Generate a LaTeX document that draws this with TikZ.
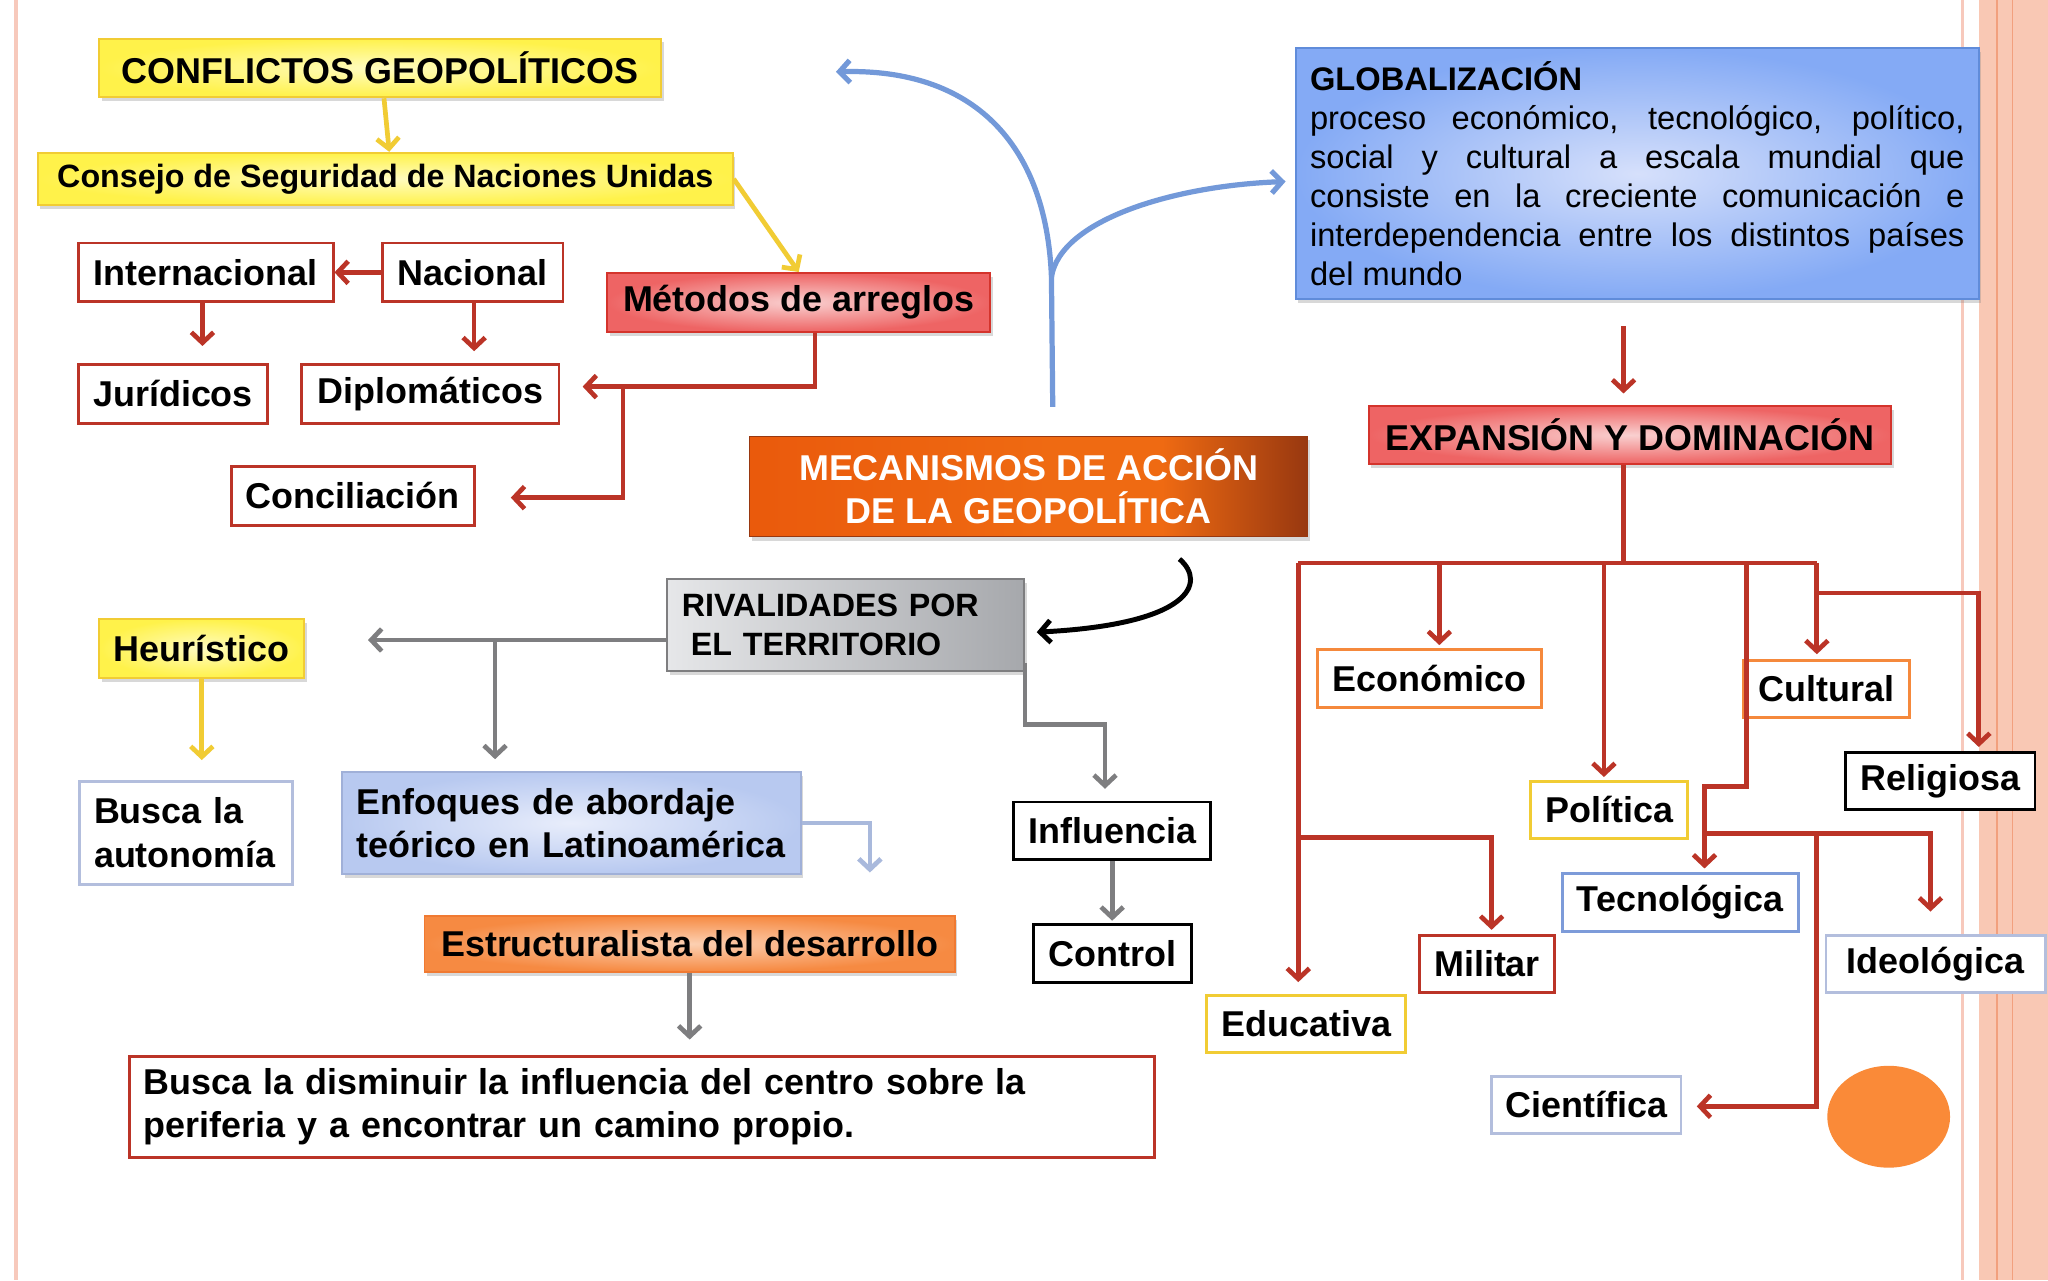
\documentclass[tikz,border=0pt]{standalone}
\usepackage{fontspec}
\setmainfont{Liberation Sans}
\usetikzlibrary{arrows.meta,shadows}
\definecolor{cm-red}{HTML}{BB3427}
\definecolor{cm-gold}{HTML}{F1CC34}
\definecolor{cm-orange}{HTML}{F5893C}
\definecolor{cm-blue}{HTML}{7399D9}
\definecolor{cm-tec}{HTML}{7D9BD9}
\definecolor{cm-pale}{HTML}{B3BEDD}
\definecolor{cm-palearr}{HTML}{A9B9DC}
\definecolor{cm-gray}{HTML}{7E7E80}
\definecolor{cm-side}{HTML}{F9C8B4}
\definecolor{cm-stripe}{HTML}{F2A07E}
\definecolor{cm-line}{HTML}{F7C9BC}
\definecolor{cm-dot}{HTML}{FA8A38}
\definecolor{meca-a}{HTML}{EA5A0C}
\definecolor{meca-b}{HTML}{EF6A12}
\definecolor{meca-c}{HTML}{983810}
\definecolor{y-in}{HTML}{FFFCC0}
\definecolor{y-out}{HTML}{FFF24A}
\definecolor{p-draw}{HTML}{D4342C}
\definecolor{p-in}{HTML}{F9D0D0}
\definecolor{p-out}{HTML}{EE6464}
\definecolor{g-draw}{HTML}{608CDA}
\definecolor{g-in}{HTML}{D6E0FB}
\definecolor{g-out}{HTML}{84AAF5}
\definecolor{r-left}{HTML}{E6E7E9}
\definecolor{r-right}{HTML}{A6A8AC}
\definecolor{e-draw}{HTML}{A0B0D8}
\definecolor{e-in}{HTML}{E8EDFB}
\definecolor{e-out}{HTML}{B8C9F0}
\definecolor{s-draw}{HTML}{F07A32}
\definecolor{s-in}{HTML}{FCD0B2}
\definecolor{s-out}{HTML}{F68A42}
\pgfdeclarehorizontalshading{mecashade}{100bp}{color(0bp)=(meca-a); color(25bp)=(meca-a);
  color(52bp)=(meca-b); color(62bp)=(meca-b); color(75bp)=(meca-c); color(100bp)=(meca-c)}
\newcommand{\lblfont}{\fontsize{27.5}{33}\selectfont\bfseries}
\newcommand{\smlfont}{\fontsize{24.7}{30}\selectfont\bfseries}
\newcommand{\txtfont}{\fontsize{25}{30}\selectfont}
\tikzset{
  cmbox/.style={draw, fill=white, line width=2.2pt, inner sep=0pt, font=\lblfont},
  redbox/.style={cmbox, draw=cm-red},
  blkbox/.style={cmbox, draw=black},
  orbox/.style={cmbox, draw=cm-orange},
  gdbox/.style={cmbox, draw=cm-gold},
  palebox/.style={cmbox, draw=cm-pale},
  shadowed/.style={drop shadow={shadow xshift=2pt, shadow yshift=-3pt, opacity=.3}},
  ybox/.style={cmbox, shadowed, draw=cm-gold, line width=1.5pt, inner color=y-in, outer color=y-out},
  pbox/.style={cmbox, shadowed, draw=p-draw, line width=1.5pt, inner color=p-in, outer color=p-out},
  arr/.style={line width=3.6pt, -{Straight Barb[length=8pt,width=17pt]}},
  redarr/.style={arr, draw=cm-red},
  grayarr/.style={arr, draw=cm-gray},
  yarr/.style={arr, draw=cm-gold},
}
\begin{document}
\begin{tikzpicture}[x=1pt,y=-1pt]
\useasboundingbox (0,0) rectangle (1568,980);
\fill[white] (0,0) rectangle (1568,980);
% page border
\draw[cm-line, line width=3pt] (12,0) -- (12,980);
\fill[cm-side] (1515,0) rectangle (1568,980);
\draw[cm-line, line width=3pt] (1502.5,0) -- (1502.5,980);
\draw[cm-stripe, line width=1pt] (1529,0) -- (1529,980) (1541,0) -- (1541,980);

% left block
\node[ybox, minimum width=430pt, minimum height=45pt] (conf) at (291,52) {CONFLICTOS GEOPOLÍTICOS};
\node[ybox, minimum width=532pt, minimum height=40pt, font=\smlfont] (consejo) at (295,137) {Consejo de Seguridad de Naciones Unidas};
\node[redbox, minimum width=195pt, minimum height=45pt] (inter) at (157.5,208.5) {Internacional};
\node[redbox, minimum width=138pt, minimum height=45pt] (nac) at (362,208.5) {Nacional};
\node[pbox, minimum width=293pt, minimum height=45pt] (metodos) at (611.5,231.5) {Métodos de arreglos};
\node[redbox, minimum width=145pt, minimum height=45pt] (jur) at (132.5,301.5) {Jurídicos};
\node[redbox, minimum width=197pt, minimum height=45pt] (dipl) at (329.5,301.5) {Diplomáticos};
\node[redbox, minimum width=186pt, minimum height=45pt] (conc) at (270,379.5) {Conciliación};

\draw[yarr] ([xshift=3pt]conf.south) -- ([xshift=3pt]consejo.north);
\draw[yarr] (consejo.east) -- (metodos.north);
\draw[redarr] (nac.west) -- (inter.east);
\draw[redarr, shorten >=13pt] ([xshift=-2.5pt]inter.south) -- ([xshift=-2.5pt]inter.south |- jur.north);
\draw[redarr, shorten >=9pt] ([xshift=1pt]nac.south) -- ([xshift=1pt]nac.south |- dipl.north);
\coordinate (mbend) at (477,296);
\draw[redarr] ([xshift=12.5pt]metodos.south) |- ([xshift=17pt,yshift=5.5pt]dipl.east);
\draw[redarr] (mbend) |- ([xshift=27pt,yshift=-1.5pt]conc.east);

% globalization
\node[cmbox, shadowed, draw=g-draw, line width=1.5pt, inner color=g-in, outer color=g-out, font=\txtfont, text width=501pt, inner xsep=11pt, align=justify, minimum height=192pt] (glob) at (1253.5,133)
  {\textbf{GLOBALIZACIÓN}\newline proceso económico, tecnológico, político,\linebreak social y cultural a escala mundial que\linebreak consiste en la creciente comunicación e\linebreak interdependencia entre los distintos países\linebreak del mundo};
\node[pbox, minimum width=400pt, minimum height=44pt] (expa) at (1248,333) {EXPANSIÓN Y DOMINACIÓN};
\draw[redarr, shorten <=20pt, shorten >=9pt] ([xshift=-10.5pt]glob.south) -- ([xshift=-10.5pt]glob.south |- expa.north);

% centre
\node[cmbox, shadowed, draw=meca-c, line width=1pt, shading=mecashade, text=white, align=center, minimum width=427pt, minimum height=77pt] (meca) at (787.5,372.5) {MECANISMOS DE ACCIÓN\\DE LA GEOPOLÍTICA};
\coordinate (bfork) at (805,212);
\coordinate (bleft) at (640,55);
\draw[cm-blue, line width=4pt, -{Straight Barb[length=8pt,width=17pt]}] ([xshift=18.5pt,yshift=22pt]meca.north) -- (bfork) .. controls (801,110) and (745,52) .. (bleft);
\draw[cm-blue, line width=4pt, -{Straight Barb[length=8pt,width=17pt]}] (bfork) .. controls (812,168) and (900,142) .. ([xshift=-7pt,yshift=-6pt]glob.west);

% rivalries
\node[cmbox, shadowed, draw=cm-gray, line width=1.5pt, left color=r-left, right color=r-right, font=\smlfont, align=left, text width=251pt, inner xsep=11pt, minimum height=71pt] (riv) at (647.5,478.5) {RIVALIDADES POR\\\hspace*{7pt}EL TERRITORIO};
\coordinate (bstart) at (903,428);
\draw[line width=3.8pt, -{Straight Barb[length=8pt,width=17pt]}] (bstart) .. controls (924,446) and (912,478) .. ([xshift=9pt,yshift=-5.5pt]riv.east);

\node[ybox, minimum width=157pt, minimum height=45pt] (heur) at (154.5,496.5) {Heurístico};
\node[palebox, align=left, text width=141pt, inner xsep=11pt, minimum height=79pt] (busca) at (142.5,637.5) {Busca la\\autonomía};
\node[cmbox, shadowed, draw=e-draw, line width=1.5pt, inner color=e-in, outer color=e-out, align=left, text width=329pt, inner xsep=11pt, minimum height=78pt] (enf) at (437.5,630) {Enfoques de abordaje\\teórico en Latinoamérica};
\node[cmbox, shadowed, draw=s-draw, line width=1.5pt, inner color=s-in, outer color=s-out, minimum width=406pt, minimum height=43pt] (estr) at (528,722.5) {Estructuralista del desarrollo};
\node[redbox, align=left, text width=763pt, inner xsep=11pt, minimum height=77pt] (dism) at (491.5,847.5) {Busca la disminuir la influencia del centro sobre la\\periferia y a encontrar un camino propio.};
\node[blkbox, minimum width=151pt, minimum height=44pt] (infl) at (851.5,636) {Influencia};
\node[blkbox, minimum width=121pt, minimum height=44pt] (ctrl) at (851.5,730) {Control};

\coordinate (rivl) at ([yshift=-11.5pt]riv.west);
\coordinate (rivb) at (379,490);
\draw[grayarr, shorten >=48pt] (rivl) -- (rivl -| heur.east);
\draw[grayarr, shorten >=9pt] (rivb) -- (rivb |- enf.north);
\draw[grayarr, shorten >=9pt] ([yshift=7pt]riv.south east) -- ++(0,47) -| ([xshift=-5.5pt]infl.north);
\coordinate (enfend) at (666,668);
\draw[arr, draw=cm-palearr] (enf.east) -| (enfend);
\draw[grayarr, shorten >=2pt] (infl.south) -- (ctrl.north);
\draw[grayarr, shorten >=12pt] (estr.south) -- (estr.south |- dism.north);
\draw[yarr, shorten >=15pt] (heur.south) -- (heur.south |- busca.north);

% expansion tree
\node[orbox, minimum width=171pt, minimum height=45pt] (econ) at (1094.5,519.5) {Económico};
\node[orbox, minimum width=127pt, minimum height=43pt] (cult) at (1398.5,527.5) {Cultural};
\node[blkbox, minimum width=145pt, minimum height=44pt] (relig) at (1485.5,598) {Religiosa};
\node[gdbox, minimum width=120pt, minimum height=44pt] (pol) at (1232,620) {Política};
\node[cmbox, draw=cm-tec, minimum width=181pt, minimum height=44pt] (tecn) at (1286.5,691) {Tecnológica};
\node[palebox, minimum width=168pt, minimum height=44pt] (ideo) at (1482,738) {Ideológica};
\node[redbox, minimum width=103pt, minimum height=44pt] (mil) at (1138.5,738) {Militar};
\node[gdbox, minimum width=152pt, minimum height=44pt] (edu) at (1000,784) {Educativa};
\node[palebox, minimum width=145pt, minimum height=44pt] (cient) at (1214.5,846) {Científica};
\fill[cm-dot] (1446,855) ellipse [x radius=47pt, y radius=39pt];

\coordinate (hub) at (1243,431);
\coordinate (tleft) at (994,431);
\coordinate (tright) at (1391,431);
\coordinate (milfork) at (994,641);
\coordinate (tecfork) at (1337,431);
\coordinate (relfork) at (1391,454);
\coordinate (ideofork) at (1305,638);
\coordinate (cientfork) at (1391,638);
\draw[cm-red, line width=3.6pt] ([xshift=-5pt]expa.south) -- (hub);
\draw[cm-red, line width=3.6pt] (tleft) -- (tright);
\draw[redarr, shorten >=9pt] (tleft) -- (tleft |- edu.north);
\draw[redarr, shorten >=3pt] (milfork) -| ([xshift=3.5pt]mil.north);
\draw[redarr, shorten >=2pt] (1102,431) -- ([xshift=7.5pt]econ.north);
\draw[redarr, shorten >=2pt] (1228,431) -- ([xshift=-4pt]pol.north);
\draw[redarr, shorten >=4pt] (tright) -- ([xshift=-7.5pt]cult.north);
\draw[redarr, shorten >=3pt] (relfork) -| ([xshift=29.5pt]relig.north);
\draw[redarr, shorten >=3pt] (tecfork) -- (1337,602) -| ([xshift=18.5pt]tecn.north);
\draw[redarr, shorten >=17pt] (ideofork) -| ([xshift=-4pt]ideo.north);
\draw[redarr] (cientfork) |- ([xshift=11pt,yshift=-1pt]cient.east);
\end{tikzpicture}
\end{document}
